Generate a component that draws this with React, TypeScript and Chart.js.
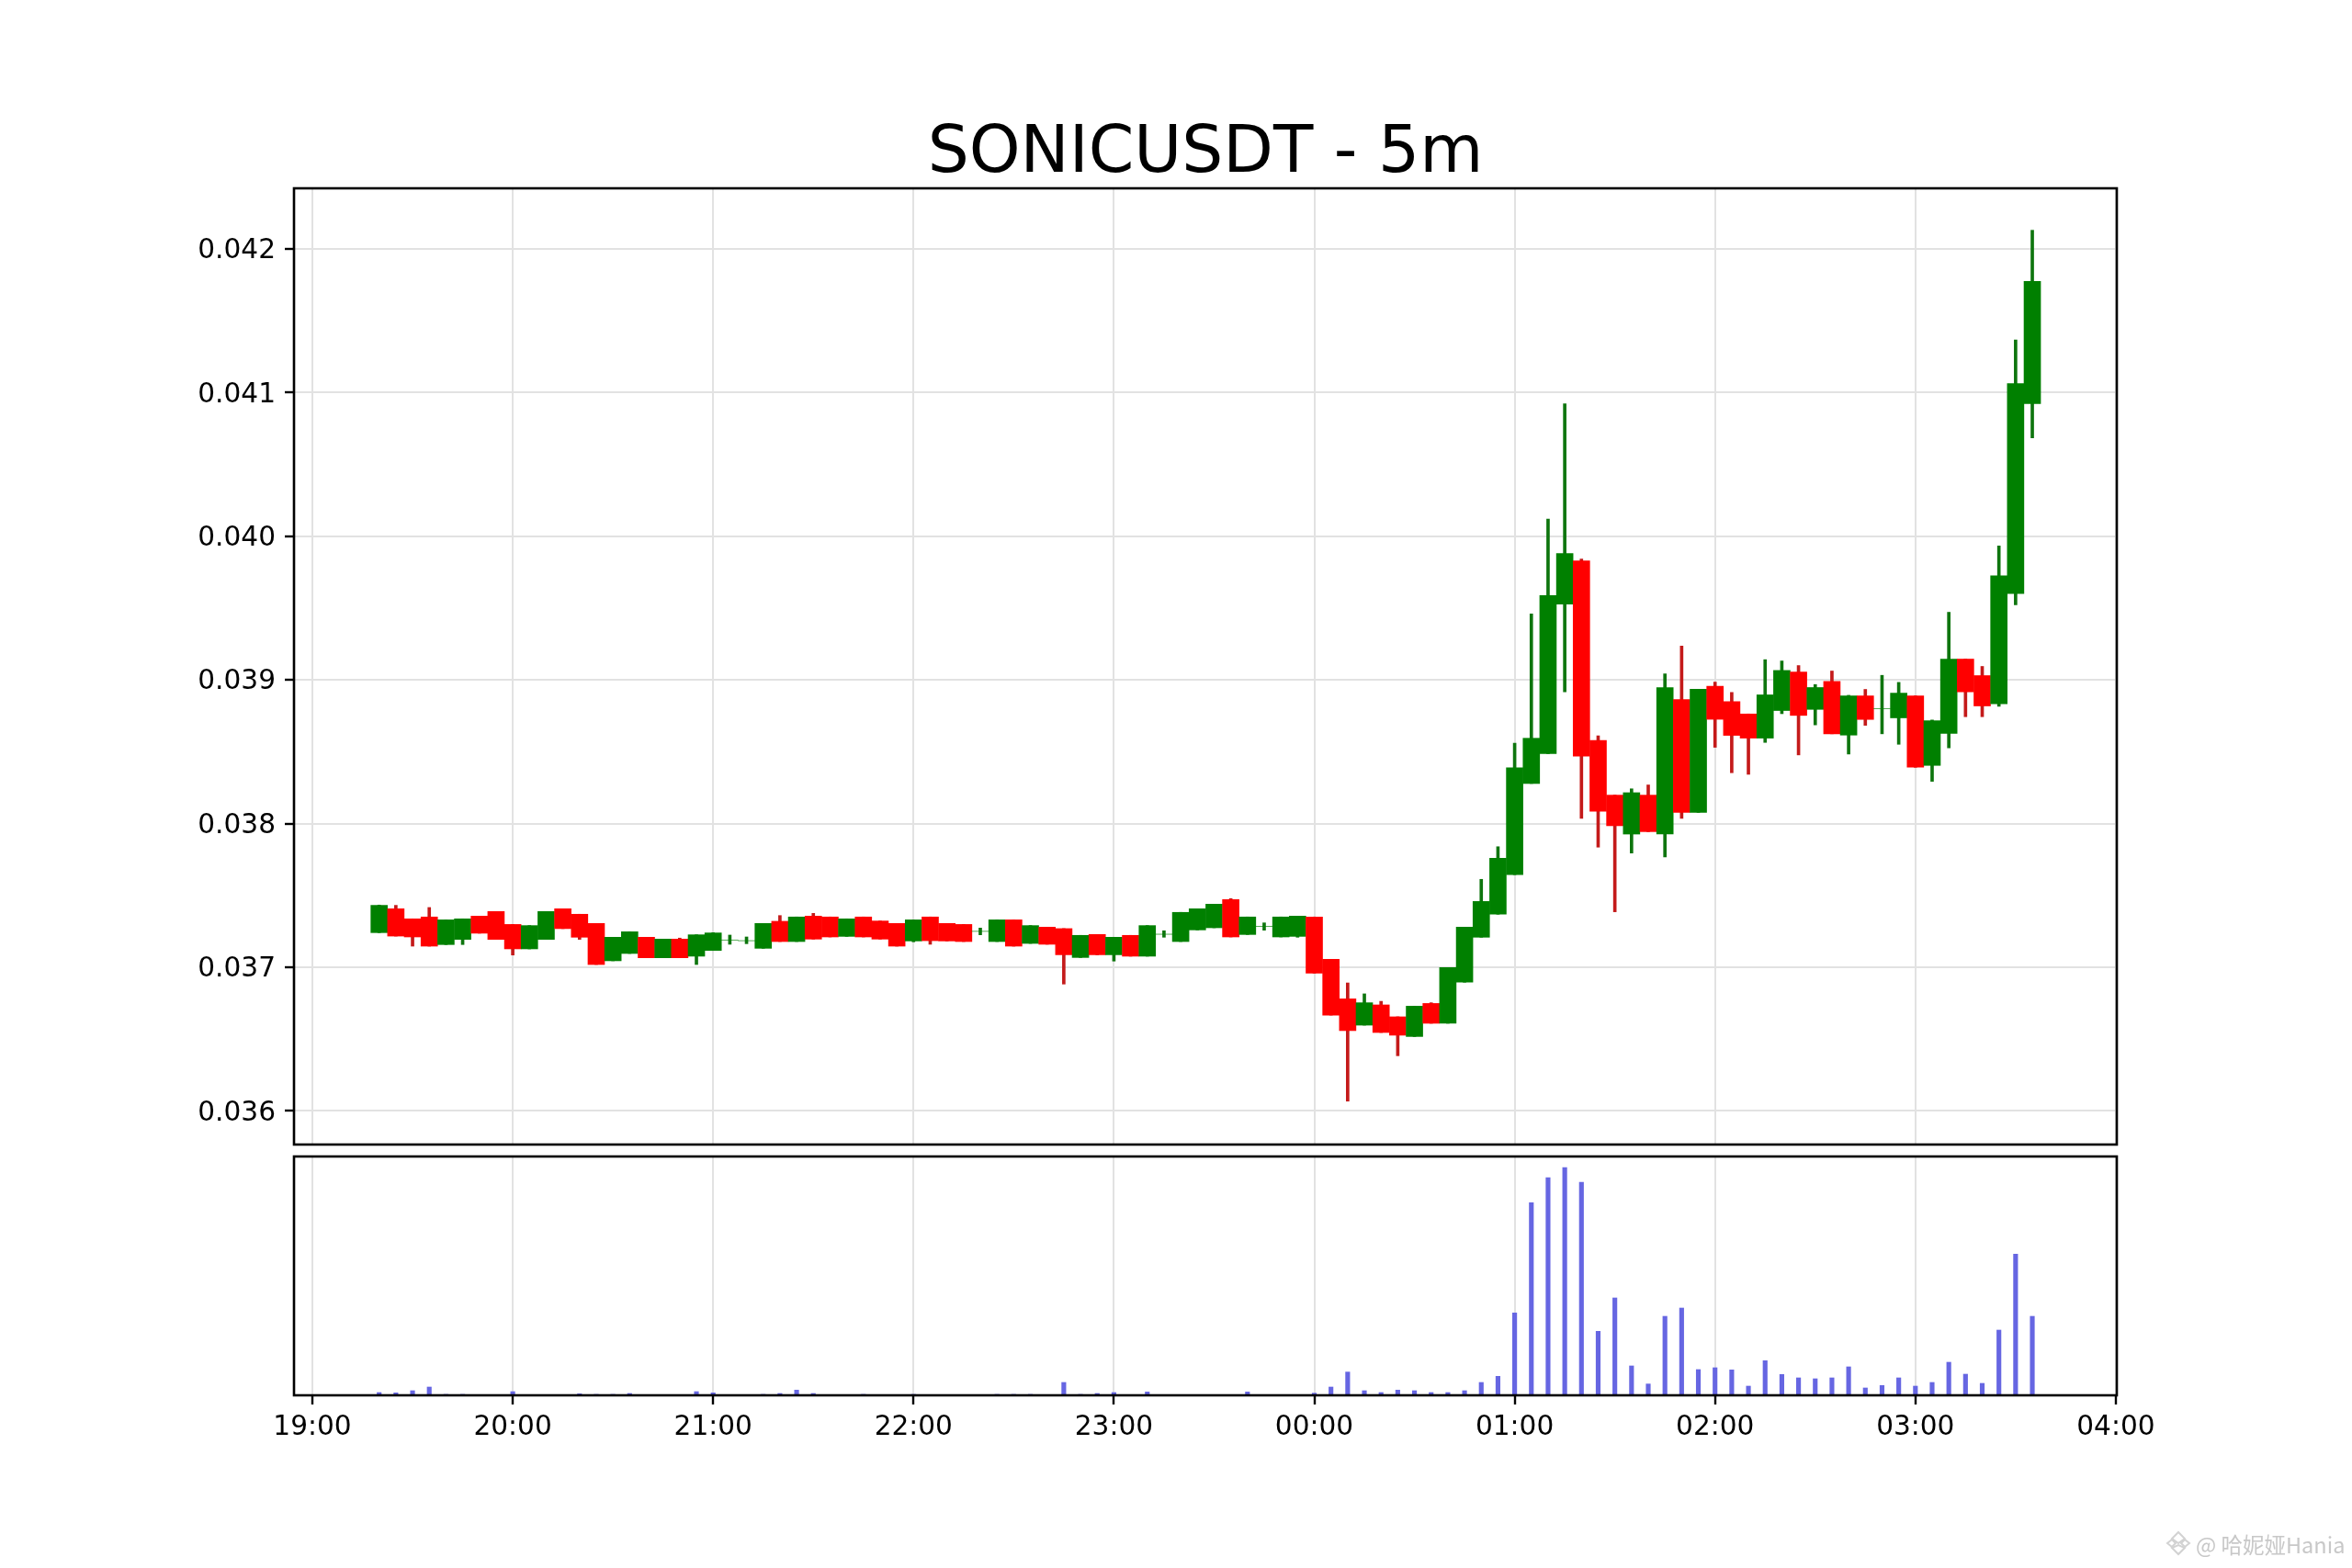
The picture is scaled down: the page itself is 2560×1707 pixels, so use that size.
import React, { useEffect, useRef } from "react";
import { Chart, registerables } from "chart.js";

Chart.register(...registerables);

const titleText = "SONICUSDT - 5m";
const tickLabels = ["19:00","20:00","21:00","22:00","23:00","00:00","01:00","02:00","03:00","04:00"];
const yTickValues = [0.036, 0.037, 0.038, 0.039, 0.04, 0.041, 0.042];
const times = [
"19:20","19:25","19:30","19:35","19:40","19:45","19:50","19:55","20:00","20:05","20:10","20:15",
"20:20","20:25","20:30","20:35","20:40","20:45","20:50","20:55","21:00","21:05","21:10","21:15",
"21:20","21:25","21:30","21:35","21:40","21:45","21:50","21:55","22:00","22:05","22:10","22:15",
"22:20","22:25","22:30","22:35","22:40","22:45","22:50","22:55","23:00","23:05","23:10","23:15",
"23:20","23:25","23:30","23:35","23:40","23:45","23:50","23:55","00:00","00:05","00:10","00:15",
"00:20","00:25","00:30","00:35","00:40","00:45","00:50","00:55","01:00","01:05","01:10","01:15",
"01:20","01:25","01:30","01:35","01:40","01:45","01:50","01:55","02:00","02:05","02:10","02:15",
"02:20","02:25","02:30","02:35","02:40","02:45","02:50","02:55","03:00","03:05","03:10","03:15",
"03:20","03:25","03:30","03:35"];

const opens = [
0.037241,0.037407,0.037337,0.03735,0.037158,0.037194,0.037356,0.037388,0.037298,0.037128,
0.037194,0.037407,0.037369,0.037305,0.037045,0.037096,0.037209,0.037066,0.037196,0.037077,
0.037117,0.03719,0.037185,0.037132,0.03732,0.037179,0.037356,0.03735,0.037215,0.03735,
0.037322,0.037305,0.037183,0.03735,0.037305,0.037298,0.03725,0.037179,0.03733,0.037166,
0.037279,0.037269,0.037068,0.037228,0.037087,0.037222,0.037077,0.03723,0.037179,0.03726,
0.037275,0.037471,0.037228,0.037285,0.037211,0.037215,0.03735,0.037055,0.03678,0.036597,
0.036738,0.036655,0.036518,0.036748,0.03661,0.036896,0.037209,0.037369,0.037645,0.038279,
0.038487,0.039528,0.039829,0.038579,0.038198,0.037927,0.038198,0.037927,0.038863,0.038078,
0.038956,0.038849,0.038763,0.038595,0.038787,0.039055,0.038795,0.038989,0.038616,0.038889,
0.0388,0.038736,0.038889,0.038405,0.038627,0.039145,0.03903,0.038834,0.039601,0.040923];

const highs = [
0.037433,0.037431,0.037337,0.037416,0.03733,0.037337,0.037356,0.037388,0.037298,0.03729,
0.037388,0.037407,0.037369,0.037305,0.037209,0.037247,0.037209,0.037196,0.037203,0.037226,
0.037241,0.037224,0.037211,0.037305,0.03736,0.03735,0.037375,0.03735,0.037337,0.03735,
0.037322,0.037305,0.03733,0.03735,0.037305,0.037298,0.037273,0.03733,0.03733,0.03729,
0.037279,0.037269,0.037222,0.037228,0.037209,0.037222,0.03729,0.037254,0.037382,0.037407,
0.037439,0.037478,0.03735,0.037309,0.03735,0.037356,0.03735,0.037055,0.036891,0.036815,
0.036763,0.036655,0.036729,0.036753,0.036998,0.037279,0.037612,0.037839,0.03856,0.03946,
0.04012,0.040922,0.039841,0.038611,0.038198,0.038242,0.038269,0.039042,0.039235,0.038936,
0.038985,0.038913,0.038763,0.039141,0.039132,0.0391,0.038968,0.039062,0.038893,0.038934,
0.039032,0.038983,0.038889,0.038721,0.039471,0.039145,0.039094,0.039932,0.041367,0.04213];

const lows = [
0.037241,0.037217,0.037147,0.037147,0.037158,0.037158,0.037237,0.037194,0.037085,0.037128,
0.037194,0.037269,0.037194,0.037019,0.037045,0.037096,0.037066,0.037066,0.037066,0.037019,
0.037117,0.03716,0.037164,0.037132,0.037179,0.037179,0.037196,0.037211,0.037215,0.037211,
0.037196,0.037147,0.037177,0.03716,0.037183,0.037179,0.037226,0.037179,0.037147,0.037166,
0.03716,0.036883,0.037068,0.037087,0.037043,0.037077,0.037077,0.037209,0.037179,0.03726,
0.037275,0.037211,0.037228,0.037258,0.037211,0.037209,0.036959,0.036667,0.036068,0.036597,
0.036546,0.036384,0.036518,0.03661,0.03661,0.036896,0.037209,0.037369,0.037645,0.038279,
0.038487,0.038917,0.038037,0.037836,0.037386,0.037795,0.037944,0.037768,0.038037,0.038078,
0.038531,0.038354,0.038343,0.038565,0.038765,0.038478,0.038687,0.038625,0.038484,0.038684,
0.038625,0.038552,0.038392,0.038294,0.038527,0.038744,0.038744,0.038817,0.039523,0.040685];

const closes = [
0.037431,0.037217,0.037211,0.037147,0.03733,0.037337,0.037237,0.037194,0.037128,0.03729,
0.037388,0.037269,0.037209,0.037019,0.037209,0.037247,0.037066,0.037196,0.037066,0.037226,
0.037239,0.03719,0.037185,0.037305,0.037179,0.03735,0.037196,0.037211,0.037337,0.037211,
0.037196,0.037147,0.03733,0.037185,0.037183,0.037179,0.03725,0.03733,0.037147,0.03729,
0.03716,0.037087,0.037222,0.037087,0.037209,0.037077,0.03729,0.03723,0.037382,0.037407,
0.037439,0.037211,0.03735,0.037285,0.03735,0.037356,0.036959,0.036667,0.036559,0.036753,
0.036546,0.036527,0.036729,0.03661,0.036998,0.037279,0.037458,0.037758,0.038389,0.038594,
0.039587,0.03988,0.038469,0.038086,0.037985,0.038215,0.037944,0.038946,0.038078,0.038936,
0.038726,0.038614,0.038595,0.038896,0.039066,0.038753,0.038947,0.038625,0.038889,0.038725,
0.0388,0.038908,0.038392,0.038716,0.039145,0.038917,0.038819,0.039725,0.041062,0.041774];

const volumes = [
9,8,15,27,3,3,1,1,12,1,
1,1,5,3,3,6,1,1,1,12,
8,1,1,3,6,17,6,1,1,3,
1,1,3,2,2,1,1,3,3,3,
1,42,3,6,9,1,11,1,1,1,
1,1,11,1,1,1,7,27,76,15,
9,17,15,9,9,15,42,62,269,629,
711,744,696,209,318,96,37,258,285,84,
90,83,30,113,68,57,54,57,93,24,
32,57,30,42,108,69,39,213,461,258];

const GREEN = "#008000";
const RED = "#ff0000";
const WICK_GREEN = "#0e750e";
const WICK_RED = "#c41a1a";
const VOLUME = "#6666e2";
const GRID = "#e2e2e2";
const FONT = "'DejaVu Sans'";

const toMinutes = (t: string) => {
  const [h, m] = t.split(":").map(Number);
  return ((h < 19 ? h + 24 : h) - 19) * 60 + m;
};
const xs = times.map(toMinutes);
const isUp = closes.map((c, i) => c >= opens[i]);
const xTickValues = tickLabels.map((_, i) => i * 60);

const frame = {
  id: "frame",
  afterDraw(chart: any) {
    const { ctx, chartArea: a } = chart;
    ctx.save();
    ctx.strokeStyle = "#000";
    ctx.lineWidth = 2.6;
    ctx.strokeRect(a.left, a.top, a.right - a.left, a.bottom - a.top);
    ctx.restore();
  },
};

const xBase = {
  type: "linear" as const,
  min: -5.5,
  max: 540.3,
  bounds: "data",
  offset: false,
  border: { display: false },
  grid: { color: GRID, lineWidth: 2, tickColor: "#000", tickWidth: 2.4, tickLength: 10, offset: false },
  afterBuildTicks: (s: any) => { s.ticks = xTickValues.map((value) => ({ value })); },
};

export default function App() {
  const mainRef = useRef<HTMLCanvasElement>(null);
  const volRef = useRef<HTMLCanvasElement>(null);

  useEffect(() => {
    const main = new Chart(mainRef.current!, {
      type: "bar",
      data: {
        datasets: [
          {
            label: "body",
            order: 1,
            data: xs.map((x, i) => ({ x, y: [opens[i], closes[i]] })) as any,
            backgroundColor: isUp.map((u) => (u ? GREEN : RED)),
            barThickness: 18,
            borderWidth: 0,
            grouped: false,
          } as any,
          {
            label: "wick",
            order: 2,
            data: xs.map((x, i) => ({ x, y: [lows[i], highs[i]] })) as any,
            backgroundColor: isUp.map((u) => (u ? WICK_GREEN : WICK_RED)),
            barThickness: 3,
            borderWidth: 0,
            grouped: false,
          } as any,
        ],
      },
      options: {
        animation: false,
        responsive: false,
        devicePixelRatio: 1,
        layout: { padding: { left: 200, right: 256, top: 0, bottom: 34 } },
        plugins: {
          legend: { display: false },
          tooltip: { enabled: false },
          title: {
            display: true,
            text: titleText,
            color: "#000",
            fullSize: false,
            font: { family: FONT, size: 71, weight: "normal", lineHeight: 1 },
            padding: { top: 133, bottom: 1 },
          },
        },
        scales: {
          x: {
            ...xBase,
            ticks: { display: false, autoSkip: false },
            grid: { ...xBase.grid, drawTicks: false },
            afterFit: (s: any) => { s.height = 0; },
          },
          y: {
            type: "linear",
            min: 0.035766,
            max: 0.042422,
            bounds: "data",
            border: { display: false },
            grid: { color: GRID, lineWidth: 2, tickColor: "#000", tickWidth: 2.4, tickLength: 10 },
            ticks: {
              color: "#000",
              padding: 10,
              labelOffset: 2.5,
              font: { family: FONT, size: 29.6 },
              callback: (v: any) => Number(v).toFixed(3),
            },
            afterBuildTicks: (s: any) => { s.ticks = yTickValues.map((value) => ({ value })); },
            afterFit: (s: any) => { s.width = 120; },
          },
        },
      } as any,
      plugins: [frame],
    });

    const vol = new Chart(volRef.current!, {
      type: "bar",
      data: {
        datasets: [
          {
            label: "volume",
            data: xs.map((x, i) => ({ x, y: volumes[i] })) as any,
            backgroundColor: VOLUME,
            barThickness: 4.5,
            borderWidth: 0,
          } as any,
        ],
      },
      options: {
        animation: false,
        responsive: false,
        devicePixelRatio: 1,
        layout: { padding: { left: 320, right: 256, top: 19, bottom: 128 } },
        plugins: { legend: { display: false }, tooltip: { enabled: false }, title: { display: false } },
        scales: {
          x: {
            ...xBase,
            ticks: {
              autoSkip: false,
              maxRotation: 0,
              color: "#000",
              padding: 8,
              font: { family: FONT, size: 29.6 },
              callback: (v: any) => tickLabels[Math.round(Number(v) / 60)] ?? "",
            },
            afterFit: (s: any) => { s.height = 60; },
          },
          y: { type: "linear", display: false, min: 0, max: 780 },
        },
      } as any,
      plugins: [frame],
    });

    return () => {
      main.destroy();
      vol.destroy();
    };
  }, []);

  return (
    <div style={{ position: "absolute", left: 0, top: 0, width: 2560, height: 1707, background: "#fff", overflow: "hidden" }}>
      <canvas ref={mainRef} width={2560} height={1280} style={{ position: "absolute", left: 0, top: 0, width: 2560, height: 1280 }} />
      <canvas ref={volRef} width={2560} height={467} style={{ position: "absolute", left: 0, top: 1240, width: 2560, height: 467 }} />
      <svg width="30" height="30" viewBox="0 0 30 30" style={{ position: "absolute", left: 2356, top: 1665 }}>
        <g fill="none" stroke="#d2d2d2" strokeWidth="2">
          <path d="M15 3 L22 10 L15 15 L8 10 Z" />
          <path d="M3 15 L8 11 L12 15 L8 19 Z" />
          <path d="M27 15 L22 11 L18 15 L22 19 Z" />
          <path d="M15 27 L8 20 L15 17 L22 20 Z" />
        </g>
      </svg>
      <div style={{ position: "absolute", left: 2390, top: 1666, fontFamily: "'Noto Sans CJK SC'", fontSize: 23.5, lineHeight: "30px", color: "#c8c8c8", whiteSpace: "nowrap" }}>
        @ 哈妮娅Hania
      </div>
    </div>
  );
}
